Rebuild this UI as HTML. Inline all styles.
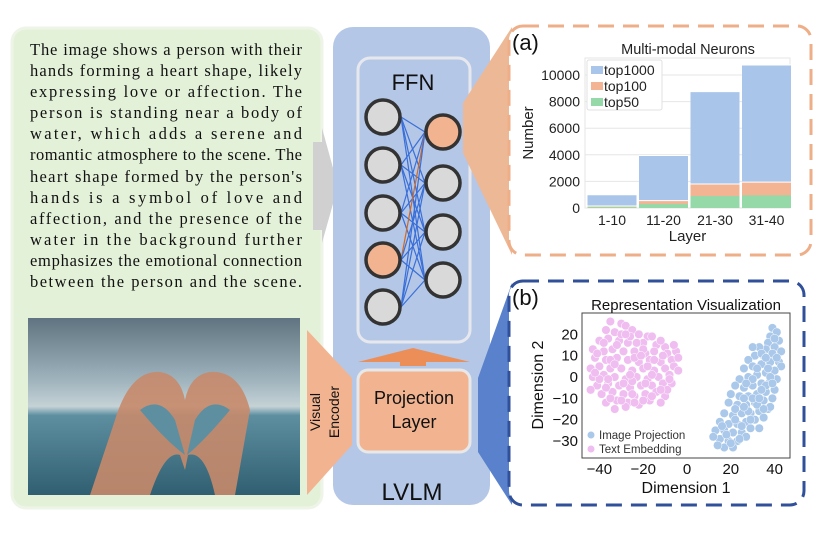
<!DOCTYPE html>
<html><head><meta charset="utf-8"><style>
html,body{margin:0;padding:0;background:#fff;}
svg{display:block;font-family:"Liberation Sans",Arial,sans-serif;}
</style></head><body>
<svg id="fig" width="830" height="540" viewBox="0 0 830 540" xmlns="http://www.w3.org/2000/svg">
<defs>
<linearGradient id="sky" x1="0" y1="0" x2="0" y2="1">
<stop offset="0" stop-color="#5f7480"/><stop offset="0.35" stop-color="#9fb3bd"/><stop offset="0.5" stop-color="#c5d2d6"/><stop offset="0.55" stop-color="#5e8fa0"/><stop offset="1" stop-color="#2f5f70"/>
</linearGradient>
</defs>
<rect x="12" y="28" width="310" height="480" rx="14" fill="#e4f1d9" stroke="#eef5e8" stroke-width="3"/>
<g font-family="'Liberation Serif',serif" font-size="16.5" fill="#111">
<text x="30" y="55" textLength="272" lengthAdjust="spacing">The image shows a person with their</text>
<text x="30" y="76" textLength="272" lengthAdjust="spacing">hands forming a heart shape, likely</text>
<text x="30" y="97" textLength="272" lengthAdjust="spacing">expressing love or affection. The</text>
<text x="30" y="118" textLength="272" lengthAdjust="spacing">person is standing near a body of</text>
<text x="30" y="139" textLength="272" lengthAdjust="spacing">water, which adds a serene and</text>
<text x="30" y="160" textLength="272" lengthAdjust="spacing">romantic atmosphere to the scene. The</text>
<text x="30" y="182" textLength="272" lengthAdjust="spacing">heart shape formed by the person's</text>
<text x="30" y="203" textLength="272" lengthAdjust="spacing">hands is a symbol of love and</text>
<text x="30" y="224" textLength="272" lengthAdjust="spacing">affection, and the presence of the</text>
<text x="30" y="245" textLength="272" lengthAdjust="spacing">water in the background further</text>
<text x="30" y="266" textLength="272" lengthAdjust="spacing">emphasizes the emotional connection</text>
<text x="30" y="287" textLength="272" lengthAdjust="spacing">between the person and the scene.</text>
</g>
<g>
<rect x="28" y="318" width="272" height="177" fill="url(#sky)"/>
<path d="M90 495 L115 420 Q130 370 160 372 Q180 375 185 400 Q190 375 210 372 Q240 370 250 410 L235 495 L215 495 Q205 450 188 455 L185 470 L180 455 Q165 450 150 495 Z" fill="#c68a6a" opacity="0.9"/>
<path d="M140 410 Q160 395 175 420 L185 455 Q165 440 140 410 Z M230 410 Q210 395 195 420 L187 455 Q205 440 230 410 Z" fill="#5e8fa0"/>
</g>
<path d="M313 142 L322 142 L322 128 L338 186 L322 243 L322 230 L313 230 Z" fill="#d0d0d0"/>
<rect x="333" y="27" width="157" height="478" rx="20" fill="#b4c7e7"/>
<text x="412" y="500" font-size="24" text-anchor="middle" fill="#111">LVLM</text>
<path d="M307 330 L352 378 L352 445 L307 495 Z" fill="#f2b490"/>
<text transform="translate(320,412) rotate(-90)" font-size="14" text-anchor="middle" fill="#111"><tspan x="0" dy="0">Visual</tspan><tspan x="0" dy="19">Encoder</tspan></text>
<rect x="358" y="58" width="112" height="284" rx="12" fill="#b4c7e7" stroke="#e6e8ee" stroke-width="3"/>
<text x="413" y="90" font-size="22" text-anchor="middle" fill="#111">FFN</text>
<g id="net"></g>
<path d="M358 362 L470 362 L413 348 Z M400 362 L426 362 L426 366 L400 366 Z" fill="#ec8e58"/>
<rect x="358" y="370" width="112" height="82" rx="10" fill="#f2b490" stroke="#e8e8e8" stroke-width="3"/>
<text x="414" y="404" font-size="18" text-anchor="middle" fill="#111"><tspan x="414">Projection</tspan><tspan x="414" dy="24">Layer</tspan></text>
<path d="M463 103 L512 27 L512 255 L463 153 Z" fill="#edb896"/>
<path d="M478 378 L512 283 L512 505 L478 452 Z" fill="#5a82cc"/>
<rect x="509" y="26" width="302" height="229" rx="14" fill="#fff" stroke="#eeae88" stroke-width="3" stroke-dasharray="16 9"/>
<text x="512" y="50" font-size="22" fill="#111">(a)</text>
<g id="bar"></g>
<rect x="509" y="281" width="295" height="224" rx="14" fill="#fff" stroke="#30509a" stroke-width="3" stroke-dasharray="16 9"/>
<text x="512" y="305" font-size="22" fill="#111">(b)</text>
<g id="sc"></g>
</svg>
<script>
const NS="http://www.w3.org/2000/svg";
function mk(t,a,p){const e=document.createElementNS(NS,t);for(const k in a)e.setAttribute(k,a[k]);p.appendChild(e);return e;}

const net=document.getElementById('net');
const L=[117,165,213,260,307],R=[132,183,232,280];
L.forEach(y=>R.forEach(y2=>{const l=mk('line',{x1:401,y1:y,x2:425,y2:y2,stroke:(y===260&&y2===132)?'#d2691e':'#3a6fd8','stroke-width':1.2},net);

}));
L.forEach((y,i)=>{const c=mk('circle',{cx:383,cy:y,r:17,fill:i===3?'#f2b490':'#d9d9d9',stroke:'#333','stroke-width':3.5},net);

});
R.forEach((y,i)=>{const c=mk('circle',{cx:443,cy:y,r:17,fill:i===0?'#f2b490':'#d9d9d9',stroke:'#333','stroke-width':3.5},net);

});

const categories=['1-10','11-20','21-30','31-40'];
const top1000=[1000,3950,8750,10750];
const top100=[150,550,1800,1950];
const top50=[80,300,900,950];
const yTicks=[0,2000,4000,6000,8000,10000];
const bar=document.getElementById('bar');
const bx0=585,bx1=790,by0=208,bTop=58;
const yS=v=>by0-v*(133/10000);
const xS=i=>bx0+27+i*51.5;
yTicks.forEach(t=>{const g=mk('line',{x1:bx0,x2:bx1,y1:yS(t),y2:yS(t),stroke:'#e6e6e6'},bar);
const tx=mk('text',{x:bx0-5,y:yS(t)+5,'font-size':14,'text-anchor':'end',fill:'#222'},bar);tx.textContent=t;

});
mk('rect',{x:bx0,y:bTop,width:bx1-bx0,height:by0-bTop,fill:'none',stroke:'#e6e6e6'},bar);
[[top1000,'#a9c6ea'],[top100,'#f2b492'],[top50,'#95d9a9']].forEach(([arr,col])=>{
arr.forEach((v,i)=>{const r=mk('rect',{x:xS(i)-24.5,y:yS(v),width:49,height:by0-yS(v),fill:col},bar);


if(col!=='#95d9a9'){mk('line',{x1:xS(i)-24.5,x2:xS(i)+24.5,y1:yS(v),y2:yS(v),stroke:'#fff','stroke-width':1},bar);}
});});
categories.forEach((c,i)=>{const t=mk('text',{x:xS(i),y:225,'font-size':14,'text-anchor':'middle',fill:'#222'},bar);t.textContent=c;

});
let t=mk('text',{x:(bx0+bx1)/2,y:241,'font-size':15,'text-anchor':'middle',fill:'#222'},bar);t.textContent='Layer';

t=mk('text',{x:0,y:0,'font-size':15,'text-anchor':'middle',fill:'#222',transform:'translate(533,133) rotate(-90)'},bar);t.textContent='Number';

t=mk('text',{x:688,y:54,'font-size':14.5,'text-anchor':'middle',fill:'#222'},bar);t.textContent='Multi-modal Neurons';

mk('rect',{x:587,y:60,width:75,height:50,fill:'#fff',stroke:'#e0e0e0',rx:2},bar);
[['top1000','#a9c6ea'],['top100','#f2b492'],['top50','#95d9a9']].forEach(([n,c],i)=>{
const g=mk('g',{},bar);
mk('rect',{x:591,y:66+i*16,width:12,height:8,fill:c},g);
const tt=mk('text',{x:604,y:75+i*16,'font-size':14,fill:'#222'},g);tt.textContent=n;});

const textEmbedding=[[-35,26],[-30,25],[-28,24],[-37,22],[-33,21],[-25,22],[-22,20],[-18,19],[-40,17],[-36,18],[-31,17],[-27,16],[-20,16],[-14,15],[-10,14],[-43,13],[-38,12],[-34,13],[-29,12],[-24,12],[-19,11],[-15,12],[-9,11],[-5,12],[-42,9],[-37,8],[-32,9],[-27,8],[-22,7],[-17,8],[-12,7],[-7,8],[-4,9],[-44,4],[-40,5],[-35,4],[-30,4],[-25,3],[-20,4],[-15,3],[-10,4],[-6,5],[-43,0],[-38,1],[-33,0],[-28,-1],[-23,0],[-18,-1],[-13,0],[-8,1],[-41,-4],[-36,-3],[-31,-4],[-26,-5],[-21,-4],[-16,-4],[-11,-3],[-7,-3],[-39,-8],[-34,-7],[-29,-8],[-24,-9],[-19,-8],[-14,-7],[-10,-9],[-37,-12],[-32,-11],[-27,-12],[-22,-13],[-17,-11],[-33,-15],[-28,-14],[-44,-6],[-20,13],[-26,19],[-32,15],[-12,-12],[-23,16],[-16,19],[-30,20],[-40,-1],[-35,8],[-25,-2],[-15,8],[-9,-6],[-30,-11],[-20,-11],[-38,16],[-28,20],[-12,17],[-6,15],[-41,11],[-33,6],[-24,9],[-18,5],[-11,10],[-4,3],[-36,-1],[-26,1],[-16,1],[-37,-5],[-29,-3],[-19,-3],[-12,-6],[-35,-10],[-25,-8],[-16,-9],[-24,-12],[-42,2],[-8,-1],[-21,10]];
const imageProjection=[[39,23],[41,21],[38,19],[42,17],[37,16],[40,14],[36,13],[33,14],[30,14],[43,12],[39,11],[35,10],[31,10],[28,8],[42,7],[38,7],[34,6],[30,5],[26,4],[43,5],[40,3],[36,2],[32,1],[28,0],[24,-1],[41,-1],[38,-2],[34,-3],[30,-4],[26,-5],[22,-4],[40,-6],[36,-7],[32,-8],[28,-9],[24,-9],[20,-8],[39,-10],[35,-11],[31,-12],[27,-13],[23,-13],[19,-12],[37,-15],[33,-16],[29,-17],[25,-17],[21,-18],[17,-17],[35,-19],[31,-20],[27,-21],[23,-22],[19,-22],[15,-21],[29,-24],[25,-26],[21,-26],[17,-25],[13,-25],[27,-28],[23,-30],[19,-30],[15,-29],[12,-28],[21,-33],[17,-33],[14,-32],[33,-24],[36,-4],[24,-29],[32,-13],[34,11],[38,-14],[26,-10],[22,-15],[30,-1],[28,-16],[40,18],[36,9],[32,4],[38,0],[34,-6],[30,-10],[26,-14],[22,-20],[18,-27],[29,-20],[33,-10],[37,4],[41,9],[27,-3],[25,-23],[20,-31],[16,-23],[39,-3],[35,-15]];
const sxTicks=[-40,-20,0,20,40];
const syTicks=[20,10,0,-10,-20,-30];
const sc=document.getElementById('sc');
const sx0=582,sx1=790,sy0=313,sy1=458;
const X=v=>687+v*2.19, Y=v=>377-v*2.135;
mk('rect',{x:sx0,y:sy0,width:sx1-sx0,height:sy1-sy0,fill:'#fff',stroke:'#444','stroke-width':1},sc);
textEmbedding.forEach(p=>{const c=mk('circle',{cx:X(p[0]),cy:Y(p[1]),r:4.3,fill:'#efbdf0',stroke:'#fff','stroke-width':0.5},sc);
});
imageProjection.forEach(p=>{const c=mk('circle',{cx:X(p[0]),cy:Y(p[1]),r:4.3,fill:'#aac8ea',stroke:'#fff','stroke-width':0.5},sc);
});
sxTicks.forEach(v=>{const tt=mk('text',{x:X(v),y:474,'font-size':15,'text-anchor':'middle',fill:'#111'},sc);tt.textContent=v<0?'\u2212'+(-v):v;
});
syTicks.forEach(v=>{const tt=mk('text',{x:578,y:Y(v)+5,'font-size':15,'text-anchor':'end',fill:'#111'},sc);tt.textContent=v<0?'\u2212'+(-v):v;
});
t=mk('text',{x:686,y:493,'font-size':16,'text-anchor':'middle',fill:'#111'},sc);t.textContent='Dimension 1';

t=mk('text',{x:0,y:0,'font-size':16,'text-anchor':'middle',fill:'#111',transform:'translate(543,385) rotate(-90)'},sc);t.textContent='Dimension 2';

t=mk('text',{x:686,y:310,'font-size':15,'text-anchor':'middle',fill:'#111'},sc);t.textContent='Representation Visualization';

[['Image Projection','#aac8ea'],['Text Embedding','#efbdf0']].forEach(([n,c],i)=>{
const g=mk('g',{},sc);
mk('circle',{cx:591,cy:435+i*14,r:3.5,fill:c},g);
const tt=mk('text',{x:599,y:439+i*14,'font-size':11.5,fill:'#333'},g);tt.textContent=n;});
</script>
</body></html>
